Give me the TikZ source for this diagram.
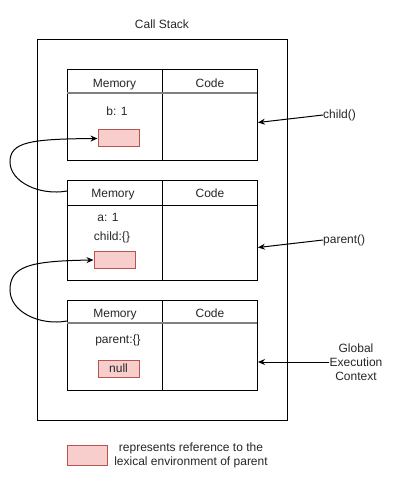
\documentclass[tikz,border=0pt]{standalone}
\usepackage{fontspec}
\setmainfont{Liberation Sans}
\usetikzlibrary{arrows.meta}
\definecolor{pinkfill}{HTML}{F8CECC}
\definecolor{pinkline}{HTML}{B85450}
\definecolor{hdrgray}{HTML}{808080}
\begin{document}
\begin{tikzpicture}[x=1pt,y=-1pt,
  every node/.style={font=\fontsize{12}{14}\selectfont, inner sep=0pt, text=black!85},
  lbl/.style={anchor=base},
  frame/.style={draw, line width=1pt, rectangle, minimum width=190pt, minimum height=#1},
  outer/.style={draw, line width=1pt, rectangle, minimum width=250pt, minimum height=380pt},
  refbox/.style={draw=pinkline, fill=pinkfill, line width=1pt, rectangle, minimum width=41pt, minimum height=17pt},
  hline/.style={line width=2pt, draw=hdrgray},
  bline/.style={line width=1pt},
  arr/.style={line width=1pt, -{Stealth[length=7pt,width=6pt]}},
]
\useasboundingbox (0,0) rectangle (413,481);
% outer stack
\node[lbl] (title) at (162,28.5) {Call Stack};
\node[outer] (stack) at (162,230) {};
% frame 1
\node[frame=90pt] (f1) at (162,115) {};
\draw[bline] (162,70) -- (162,160);
\draw[hline] (67,93) -- (257,93);
\node[lbl] (m1) at (114.5,87.5) {Memory};
\node[lbl] (k1) at (210,87.5) {Code};
\node[lbl] (b1) at (117,115.5) {b: 1};
\node[refbox] (p1) at (118.5,138.5) {};
% frame 2
\node[frame=100pt] (f2) at (162,230) {};
\draw[bline] (162,180) -- (162,280);
\draw[bline] (67,205) -- (257,205);
\node[lbl] (m2) at (113,197) {Memory};
\node[lbl] (k2) at (210,197) {Code};
\node[lbl] (a2) at (108,221) {a: 1};
\node[lbl] (c2) at (112,240) {child:\{\}};
\node[refbox] (p2) at (114.5,260) {};
% frame 3
\node[frame=90pt] (f3) at (162,345) {};
\draw[bline] (162,300) -- (162,390);
\draw[hline] (67,323) -- (257,323);
\node[lbl] (m3) at (115,317.5) {Memory};
\node[lbl] (k3) at (210,317.5) {Code};
\node[lbl] (par3) at (118,343.5) {parent:\{\}};
\node[refbox] (p3) at (118.5,368.5) {null};
% labels and arrows
\node[anchor=west] (lchild) at (323,115) {child()};
\node[anchor=west] (lparent) at (323,240) {parent()};
\node[align=center] (lglobal) at (356,362) {Global\\Execution\\Context};
\coordinate (t1) at (258,122.5);
\coordinate (t2) at (258,247.5);
\coordinate (t3) at (258,362);
\draw[arr] (lchild.west) -- (t1);
\draw[arr] (lparent.west) -- (t2);
\draw[arr] (lglobal.west |- t3) -- (t3);
% curved references
\coordinate (s2) at (67,191);
\coordinate (s3) at (67,321);
\draw[arr] (s2) .. controls (40,196) and (10,182) .. (10,162)
  .. controls (10,142) and (30,139) .. (p1.west);
\draw[arr] (s3) .. controls (40,326) and (10,312) .. (10,290)
  .. controls (10,266) and (30,261) .. (p2.west);
% legend
\node[refbox, minimum width=40pt, minimum height=20pt] (leg) at (87,455) {};
\node[align=center] (legtext) at (191,455.5) {represents reference to the\\lexical environment of parent};
\end{tikzpicture}
\end{document}
